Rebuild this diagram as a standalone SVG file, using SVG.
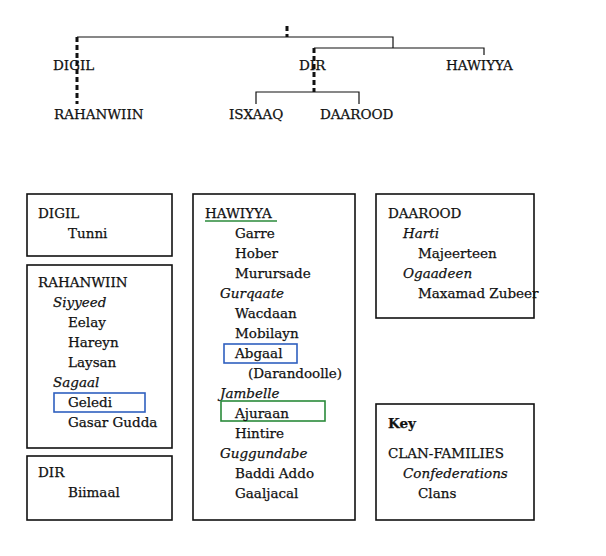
<svg xmlns="http://www.w3.org/2000/svg" width="606" height="556" viewBox="0 0 606 556">
<style>
text{font-family:"DejaVu Serif","Liberation Serif",serif;font-size:13.5px;fill:#111;stroke:#111;stroke-width:0.25}
.i{font-style:italic}
.b{font-weight:bold}
.box{fill:none;stroke:#111;stroke-width:1.6}
.ln{fill:none;stroke:#111;stroke-width:1.2}
.d{fill:none;stroke:#111;stroke-width:3;stroke-dasharray:5 3}
</style>
<rect width="606" height="556" fill="#fff"/>
<g id="connectors">
<path class="d" d="M287 26V37"/>
<path class="ln" d="M77 37H393V48M314 48H484V55"/>
<path class="d" d="M77 37V104"/>
<path class="d" d="M314 48V92"/>
<path class="ln" d="M256 104V92H359V104"/>
</g>
<g id="tree">
<text x="53" y="70">DIGIL</text>
<text x="299" y="70">DIR</text>
<text x="446" y="70">HAWIYYA</text>
<text x="54" y="119">RAHANWIIN</text>
<text x="229" y="119">ISXAAQ</text>
<text x="320" y="119">DAAROOD</text>
</g>
<g id="digil"><rect class="box" x="27" y="194" width="145" height="62"/>
<text x="38" y="218">DIGIL</text><text x="68" y="238">Tunni</text></g>
<g id="rahanwiin"><rect class="box" x="27" y="265" width="145" height="183"/>
<text x="38" y="287">RAHANWIIN</text><text class="i" x="53" y="307">Siyyeed</text>
<text x="68" y="327">Eelay</text><text x="68" y="347">Hareyn</text><text x="68" y="367">Laysan</text>
<text class="i" x="53" y="387">Sagaal</text>
<rect x="54" y="393" width="91" height="19" fill="none" stroke="#2f5fbf" stroke-width="1.6"/>
<text x="68" y="407">Geledi</text><text x="68" y="427">Gasar Gudda</text></g>
<g id="dir"><rect class="box" x="27" y="456" width="145" height="64"/>
<text x="38" y="477">DIR</text><text x="68" y="497">Biimaal</text></g>
<g id="hawiyya"><rect class="box" x="193" y="194" width="162" height="326"/>
<text x="205" y="218">HAWIYYA</text>
<line x1="205" y1="221" x2="277" y2="221" stroke="#2a8a3a" stroke-width="1.5"/>
<text x="235" y="238">Garre</text><text x="235" y="258">Hober</text><text x="235" y="278">Murursade</text>
<text class="i" x="220" y="298">Gurqaate</text>
<text x="235" y="318">Wacdaan</text><text x="235" y="338">Mobilayn</text>
<rect x="224" y="344" width="73" height="19" fill="none" stroke="#2f5fbf" stroke-width="1.6"/>
<text x="235" y="358">Abgaal</text><text x="248" y="378">(Darandoolle)</text>
<text class="i" x="220" y="398">Jambelle</text>
<rect x="221" y="401" width="104" height="20" fill="none" stroke="#2a8a3a" stroke-width="1.6"/>
<text x="235" y="418">Ajuraan</text><text x="235" y="438">Hintire</text>
<text class="i" x="220" y="458">Guggundabe</text>
<text x="235" y="478">Baddi Addo</text><text x="235" y="498">Gaaljacal</text></g>
<g id="daarood"><rect class="box" x="376" y="194" width="158" height="124"/>
<text x="388" y="218">DAAROOD</text><text class="i" x="403" y="238">Harti</text>
<text x="418" y="258">Majeerteen</text><text class="i" x="403" y="278">Ogaadeen</text>
<text x="418" y="298">Maxamad Zubeer</text></g>
<g id="key"><rect class="box" x="376" y="404" width="158" height="116"/>
<text class="b" x="388" y="428">Key</text><text x="388" y="458">CLAN-FAMILIES</text>
<text class="i" x="403" y="478">Confederations</text><text x="418" y="498">Clans</text></g>
</svg>
